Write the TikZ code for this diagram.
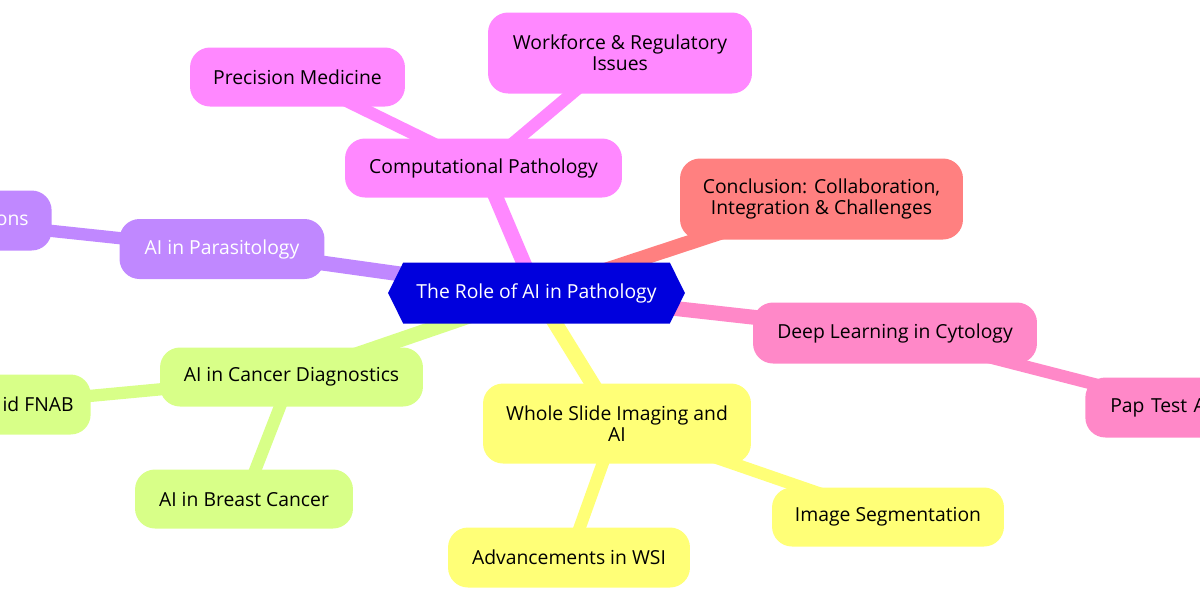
\documentclass[tikz,border=0pt]{standalone}
\usepackage{fontspec}
\setmainfont{Open Sans}
\usetikzlibrary{shapes.symbols,backgrounds}
\definecolor{cmag}{HTML}{FF88FF}
\definecolor{csal}{HTML}{FF8080}
\definecolor{cpink}{HTML}{FF88C8}
\definecolor{cyel}{HTML}{FFFF77}
\definecolor{cgrn}{HTML}{D8FF88}
\definecolor{cpur}{HTML}{C088FF}
\definecolor{cblue}{HTML}{0000DD}
\tikzset{
  box/.style={rounded corners=0.4cm, align=center, inner sep=0pt, text=black,
    font=\fontsize{11}{12}\selectfont},
  link/.style={line width=8.5pt},
  sublink/.style={line width=7pt},
}
\begin{document}
\begin{tikzpicture}[x=0.02cm,y=-0.02cm]
\useasboundingbox (0,0) rectangle (1200,600);
\clip (0,0) rectangle (1200,600);
% center
\node[signal, signal to=west and east, signal pointer angle=127, fill=cblue, text=white,
  minimum width=5.94cm, minimum height=1.22cm, inner sep=0pt,
  font=\fontsize{11}{12}\selectfont] (root) at (536.5,293) {The Role of AI in Pathology};
% magenta branch
\node[box, fill=cmag, minimum width=5.54cm, minimum height=1.18cm] (comp) at (483.5,168) {Computational Pathology};
\node[box, fill=cmag, minimum width=4.3cm, minimum height=1.18cm] (prec) at (297.5,77) {Precision Medicine};
\node[box, fill=cmag, minimum width=5.28cm, minimum height=1.62cm] (work) at (620,53) {Workforce \& Regulatory\\Issues};
% salmon
\node[box, fill=csal, minimum width=5.66cm, minimum height=1.62cm] (concl) at (821.5,199) {Conclusion: Collaboration,\\Integration \& Challenges};
% pink
\node[box, fill=cpink, minimum width=5.68cm, minimum height=1.22cm] (deep) at (895,333) {Deep Learning in Cytology};
\node[box, fill=cpink, anchor=west, text width=3cm, align=left, inner xsep=0.5cm, minimum height=1.2cm] (pap) at (1085,407.5) {Pap Test A};
% yellow
\node[box, fill=cyel, minimum width=5.36cm, minimum height=1.6cm] (whole) at (617,423.5) {Whole Slide Imaging and\\AI};
\node[box, fill=cyel, minimum width=4.64cm, minimum height=1.18cm] (seg) at (888,517) {Image Segmentation};
\node[box, fill=cyel, minimum width=4.84cm, minimum height=1.2cm] (adv) at (569,557.5) {Advancements in WSI};
% green
\node[box, fill=cgrn, minimum width=5.26cm, minimum height=1.18cm] (canc) at (291.5,377) {AI in Cancer Diagnostics};
\node[box, fill=cgrn, minimum width=4.36cm, minimum height=1.18cm] (breast) at (244,499) {AI in Breast Cancer};
\node[box, fill=cgrn, anchor=east, text width=3cm, align=flush right, inner xsep=0.34cm, minimum height=1.2cm] (fnab) at (91,404.5) {id FNAB};
% purple
\node[box, fill=cpur, text=white, minimum width=4.1cm, minimum height=1.2cm] (para) at (222,249) {AI in Parasitology};
\node[box, fill=cpur, text=white, anchor=east, text width=3cm, align=flush right, inner xsep=0.46cm, minimum height=1.2cm] (ons) at (52,220.5) {ons};
\begin{scope}[on background layer]
  \draw[link, cmag] (root.center) -- (comp.center);
  \draw[sublink, cmag] (comp.center) -- (prec.center);
  \draw[sublink, cmag] (comp.center) -- (work.center);
  \draw[link, csal] (root.center) -- (concl.center);
  \draw[link, cpink] (root.center) -- (deep.center);
  \draw[sublink, cpink] (deep.center) -- (pap.center);
  \draw[link, cyel] (root.center) -- (whole.center);
  \draw[sublink, cyel] (whole.center) -- (seg.center);
  \draw[sublink, cyel] (whole.center) -- (adv.center);
  \draw[link, cgrn] (root.center) -- (canc.center);
  \draw[sublink, cgrn] (canc.center) -- (breast.center);
  \draw[sublink, cgrn] (canc.center) -- (fnab.center);
  \draw[link, cpur] (root.center) -- (para.center);
  \draw[sublink, cpur] (para.center) -- (ons.center);
\end{scope}
\end{tikzpicture}
\end{document}
